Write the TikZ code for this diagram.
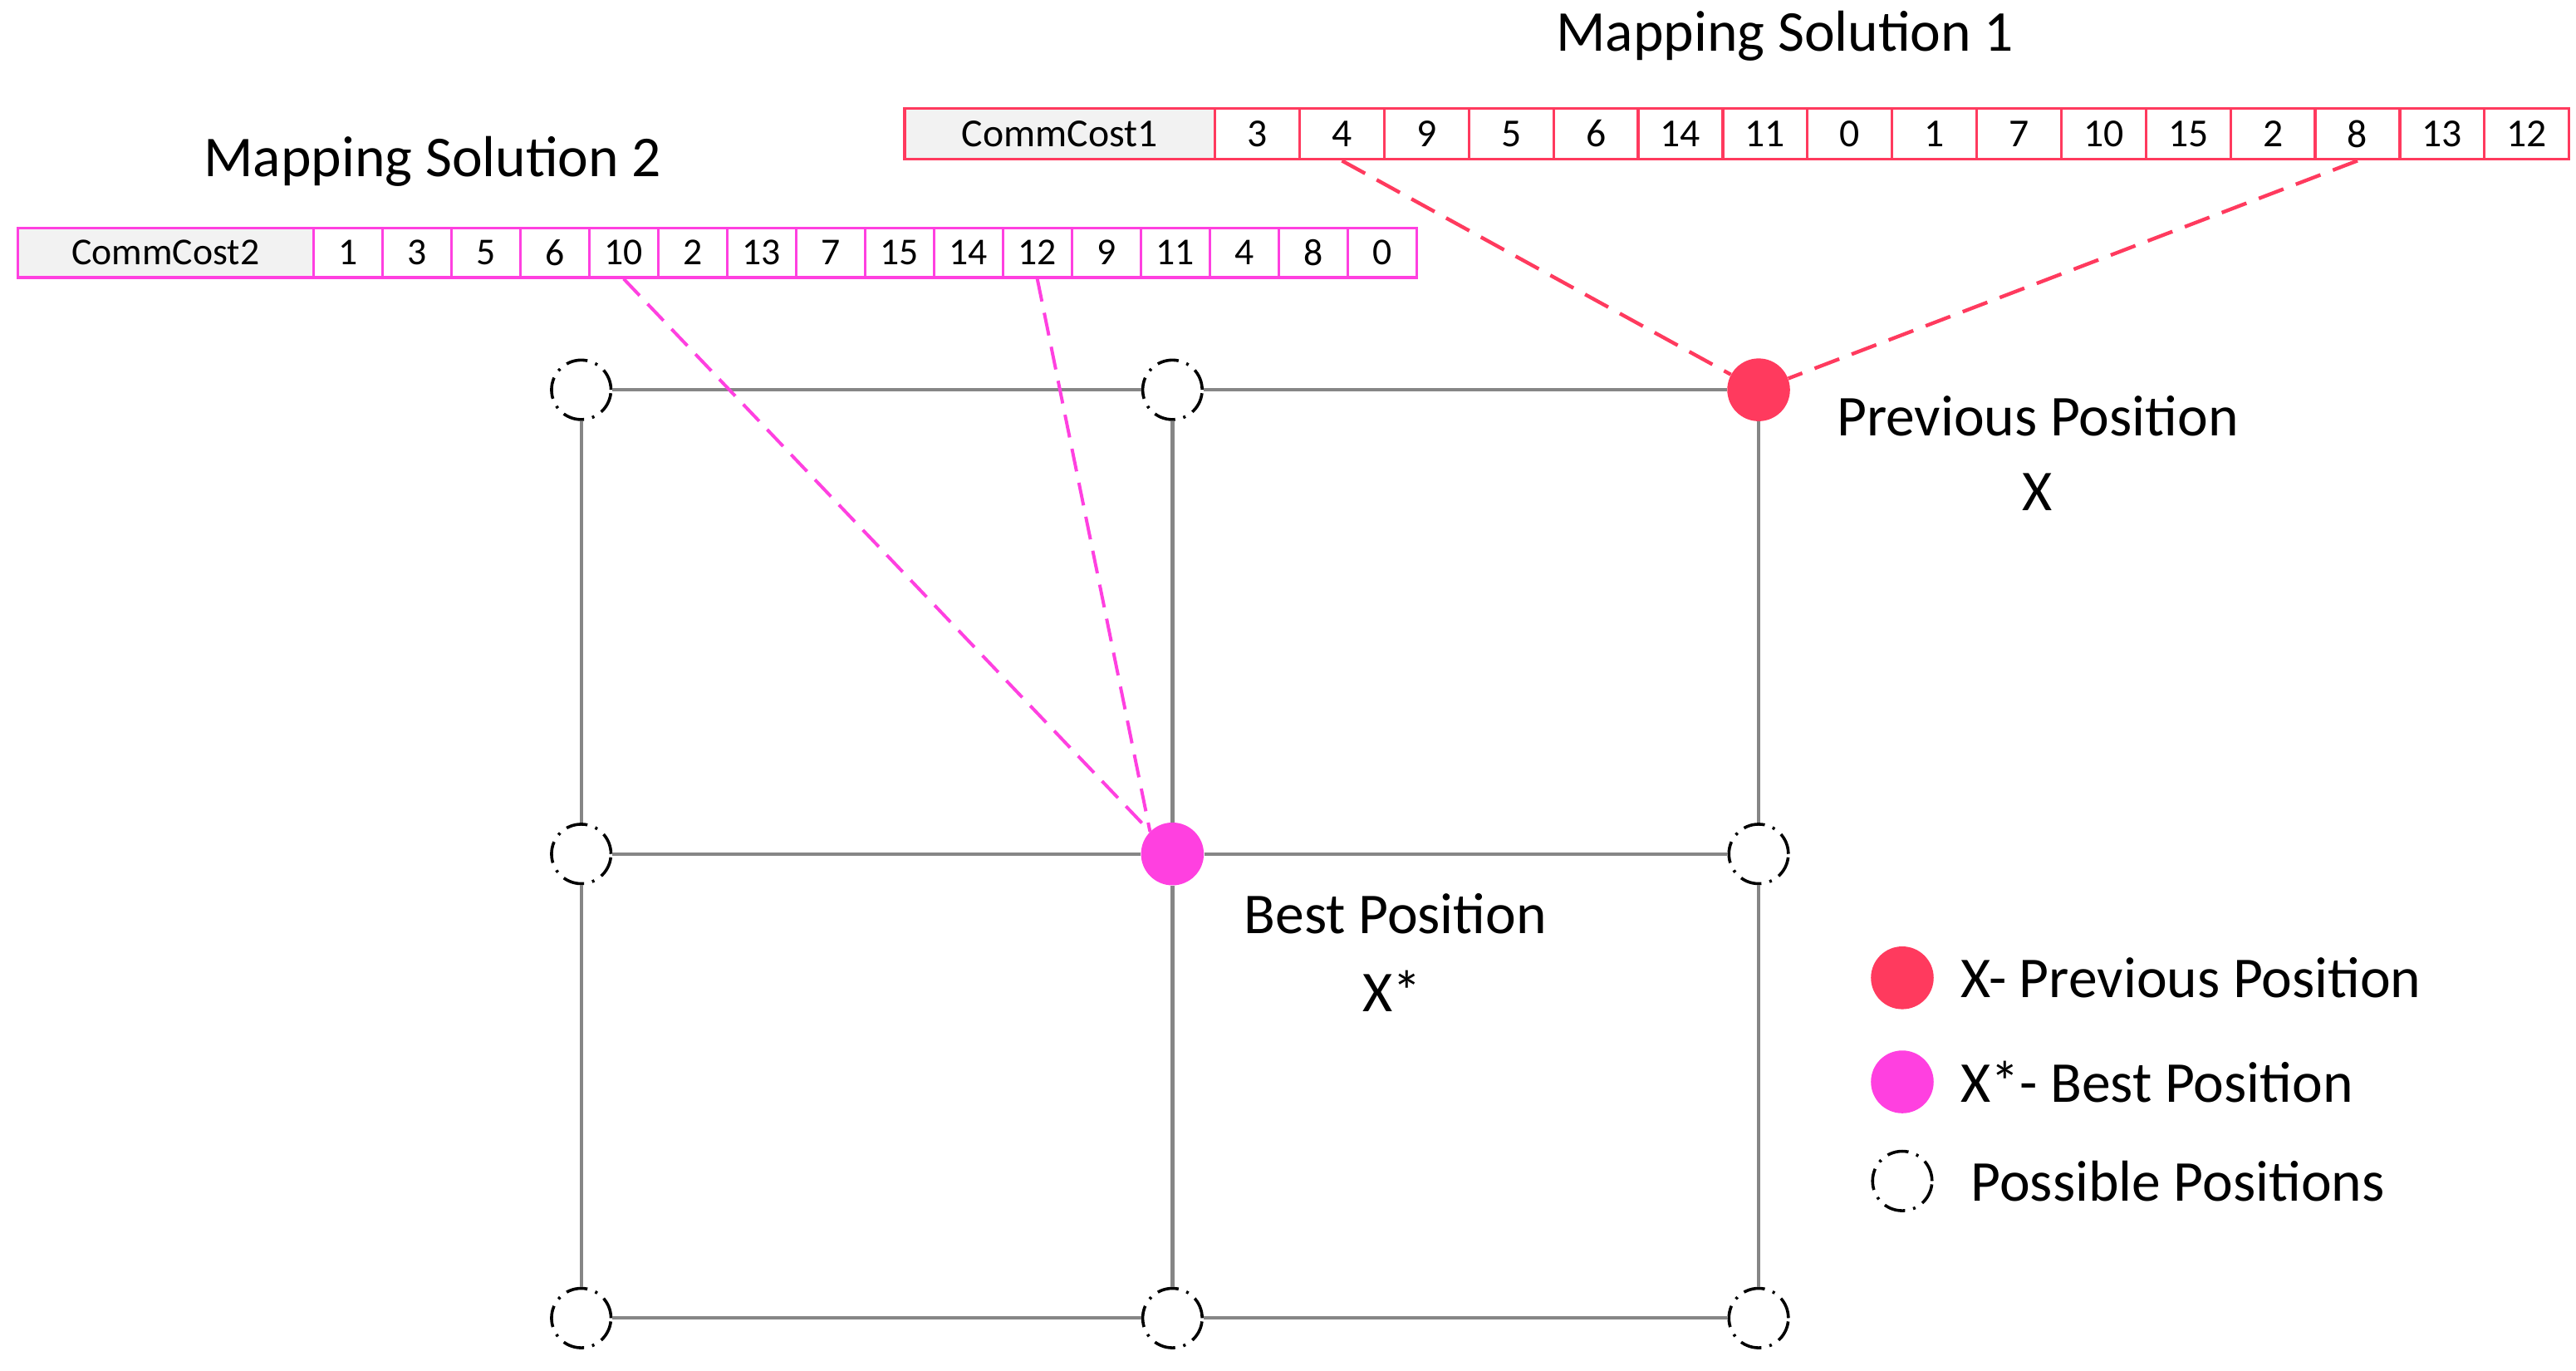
\documentclass[tikz,border=0pt]{standalone}
\usepackage{fontspec}
\setmainfont{Carlito}
\begin{document}
\begin{tikzpicture}[x=1pt,y=-1pt,
  posn/.style={circle,draw=black,line width=1.8pt,minimum size=36pt,inner sep=0pt,dash pattern=on 13pt off 5pt on 1.5pt off 5pt},
  grid/.style={draw=gray!95,line width=2.2pt},
  cellA/.style={draw=redc,line width=1.6pt,minimum width=51.25pt,minimum height=31pt,inner sep=0pt,font=\fontsize{24}{24}\selectfont,anchor=west},
  cellB/.style={draw=magc,line width=1.6pt,minimum width=41.75pt,minimum height=30pt,inner sep=0pt,font=\fontsize{23}{23}\selectfont,anchor=west},
  lblA/.style={cellA,fill=gray!10,minimum width=188pt},
  lblB/.style={cellB,fill=gray!10,minimum width=179pt},
  dotR/.style={circle,fill=redc,minimum size=38pt,inner sep=0pt},
  dotM/.style={circle,fill=magc,minimum size=38pt,inner sep=0pt},
  big/.style={font=\fontsize{35}{35}\selectfont},
  linkA/.style={draw=redc,line width=2.2pt,dash pattern=on 16pt off 8pt},
  linkB/.style={draw=magc,line width=2pt,dash pattern=on 14pt off 7pt}]
\definecolor{redc}{HTML}{FF3A5E}
\definecolor{magc}{HTML}{FF40E0}
\useasboundingbox (0,0) rectangle (1560,830);
% grid nodes
\node[posn] (g11) at (352,236) {};
\node[posn] (g12) at (710,236) {};
\node[dotR] (g13) at (1065,236) {};
\node[posn] (g21) at (352,517) {};
\node[dotM] (g22) at (710,517) {};
\node[posn] (g23) at (1065,517) {};
\node[posn] (g31) at (352,798) {};
\node[posn] (g32) at (710,798) {};
\node[posn] (g33) at (1065,798) {};
\draw[grid] (g11)--(g12); \draw[grid] (g12)--(g13);
\draw[grid] (g21)--(g22); \draw[grid] (g22)--(g23);
\draw[grid] (g31)--(g32); \draw[grid] (g32)--(g33);
\draw[grid] (g11)--(g21); \draw[grid] (g21)--(g31);
\draw[grid] (g12)--(g22); \draw[grid] (g22)--(g32);
\draw[grid] (g13)--(g23); \draw[grid] (g23)--(g33);
% table 1
\node[big] (t1) at (1081,22) {Mapping Solution 1};
\node[lblA] (a0) at (547,81) {CommCost1};
\foreach \v [count=\i] in {3,4,9,5,6,14,11,0,1,7,10,15,2,8,13,12}{
  \node[cellA] (a\i) at ({735+(\i-1)*51.25},81) {\v};}
% table 2
\node[big] (t2) at (262,98) {Mapping Solution 2};
\node[lblB] (b0) at (10,153) {CommCost2};
\foreach \v [count=\i] in {1,3,5,6,10,2,13,7,15,14,12,9,11,4,8,0}{
  \node[cellB] (b\i) at ({189+(\i-1)*41.75},153) {\v};}
% links
\draw[linkA] (a2.south) -- (g13);
\draw[linkA] (a14.south) -- (g13);
\draw[linkB] (b5.south) -- (g22.north west);
\draw[linkB] (b11.south) -- (g22.north west);
% labels
\node[big] (pp) at (1234,252) {Previous Position};
\node[big] (px) at (1234,298) {X};
\node[big] (bp) at (845,553) {Best Position};
\node[big] (bx) at (843,600) {X*};
% legend
\node[dotR] (l1) at (1152,592) {};
\node[big,anchor=west] (l1t) at (1184,592) {X- Previous Position};
\node[dotM] (l2) at (1152,655) {};
\node[big,anchor=west] (l2t) at (1184,655) {X*- Best Position};
\node[posn] (l3) at (1152,715) {};
\node[big,anchor=west] (l3t) at (1190,715) {Possible Positions};
\end{tikzpicture}
\end{document}
